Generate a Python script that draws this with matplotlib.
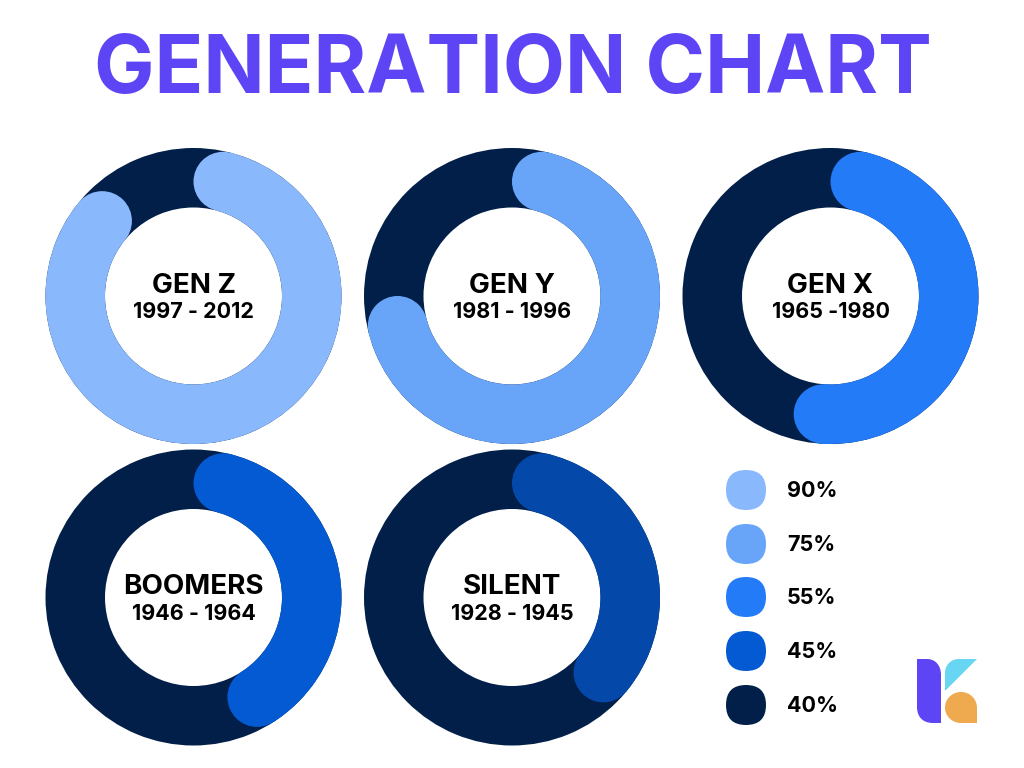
import matplotlib
matplotlib.use("Agg")
import matplotlib.pyplot as plt
import numpy as np
from matplotlib.patches import Circle, FancyBboxPatch, PathPatch, Wedge
from matplotlib.path import Path

GENERATIONS = ["GEN Z", "GEN Y", "GEN X", "BOOMERS", "SILENT"]
YEARS = ["1997 - 2012", "1981 - 1996", "1965 -1980", "1946 - 1964", "1928 - 1945"]
PERCENTS = [90, 75, 55, 45, 40]
ARC_COLORS = ["#8ab8fd", "#68a5f9", "#237bf7", "#045ad2", "#0449a9"]
LEGEND_LABELS = ["90%", "75%", "55%", "45%", "40%"]
LEGEND_COLORS = ["#8ab8fd", "#68a5f9", "#237bf7", "#045ad2", "#011f48"]

DARK = "#011f48"
CENTERS = [(193.5, 296), (512, 296), (830.5, 296), (193.5, 597.5), (512, 597.5)]
R_OUT = 148
R_IN = 88.5
FONT = "Inter"


def Y(y):
    # picture is measured from the top, axes from the bottom
    return 768 - y


def donut(ax, cx, cy, pct, color):
    cy = Y(cy)
    r_mid = (R_OUT + R_IN) / 2
    cap = (R_OUT - R_IN) / 2
    ax.add_patch(Wedge((cx, cy), R_OUT, 0, 360, width=R_OUT - R_IN, color=DARK, lw=0))
    # the caps are part of the percentage, so the straight arc is a bit shorter
    cap_deg = np.degrees(np.arcsin(cap / r_mid))
    start = cap_deg
    end = pct * 3.6 - cap_deg
    ax.add_patch(Wedge((cx, cy), R_OUT, 90 - end, 90 - start, width=R_OUT - R_IN, color=color, lw=0))
    for a in (start, end):
        a = np.radians(a)
        ax.add_patch(Circle((cx + r_mid * np.sin(a), cy + r_mid * np.cos(a)), cap, color=color, lw=0))


def logo(ax):
    M, C, L, Z = Path.MOVETO, Path.CURVE4, Path.LINETO, Path.CLOSEPOLY
    shapes = [
        ("#5d45f6", [(917, 659), (927, 659), (935, 659), (941, 665), (941, 675), (941, 723), (933, 723), (923, 723), (917, 717), (917, 707), (917, 659)],
         [M, L, C, C, C, L, L, C, C, C, Z]),
        ("#66d6f3", [(977, 659), (945, 691), (945, 673), (945, 665), (951, 659), (959, 659), (977, 659)],
         [M, L, L, C, C, C, Z]),
        ("#efa94e", [(977, 723), (961, 723), (952, 723), (945, 716), (945, 707.5), (945, 699), (952, 692), (961, 692), (970, 692), (977, 699), (977, 708), (977, 723)],
         [M, L, C, C, C, C, C, C, C, C, C, Z]),
    ]
    for color, pts, codes in shapes:
        pts = [(x, Y(y)) for x, y in pts]
        ax.add_patch(PathPatch(Path(pts, codes), facecolor=color, lw=0))


def main():
    fig = plt.figure(figsize=(10.24, 7.68), dpi=100)
    ax = fig.add_axes([0, 0, 1, 1])
    ax.set_xlim(0, 1024)
    ax.set_ylim(0, 768)
    ax.axis("off")

    ax.text(512.5, Y(72), "GENERATION CHART", ha="center", va="center", fontsize=58, fontweight="bold", color="#5d45f6", family=FONT)

    for name, years, pct, color, (cx, cy) in zip(GENERATIONS, YEARS, PERCENTS, ARC_COLORS, CENTERS):
        donut(ax, cx, cy, pct, color)
        ax.text(cx, Y(cy - 10), name, ha="center", va="center", fontsize=20, fontweight="bold", color="black", family=FONT)
        ax.text(cx, Y(cy + 16), years, ha="center", va="center", fontsize=15.5, fontweight="bold", color="black", family=FONT)

    for label, color, y in zip(LEGEND_LABELS, LEGEND_COLORS, [490, 544, 597, 651, 705]):
        ax.add_patch(FancyBboxPatch((726, Y(y) - 20), 40, 40, boxstyle="round,pad=0,rounding_size=20", facecolor=color, lw=0))
        ax.text(787, Y(y + 1), label, ha="left", va="center", fontsize=15.5, fontweight="bold", color="black", family=FONT)

    logo(ax)
    fig.savefig("out.png", dpi=100, facecolor="white")


if __name__ == "__main__":
    main()
